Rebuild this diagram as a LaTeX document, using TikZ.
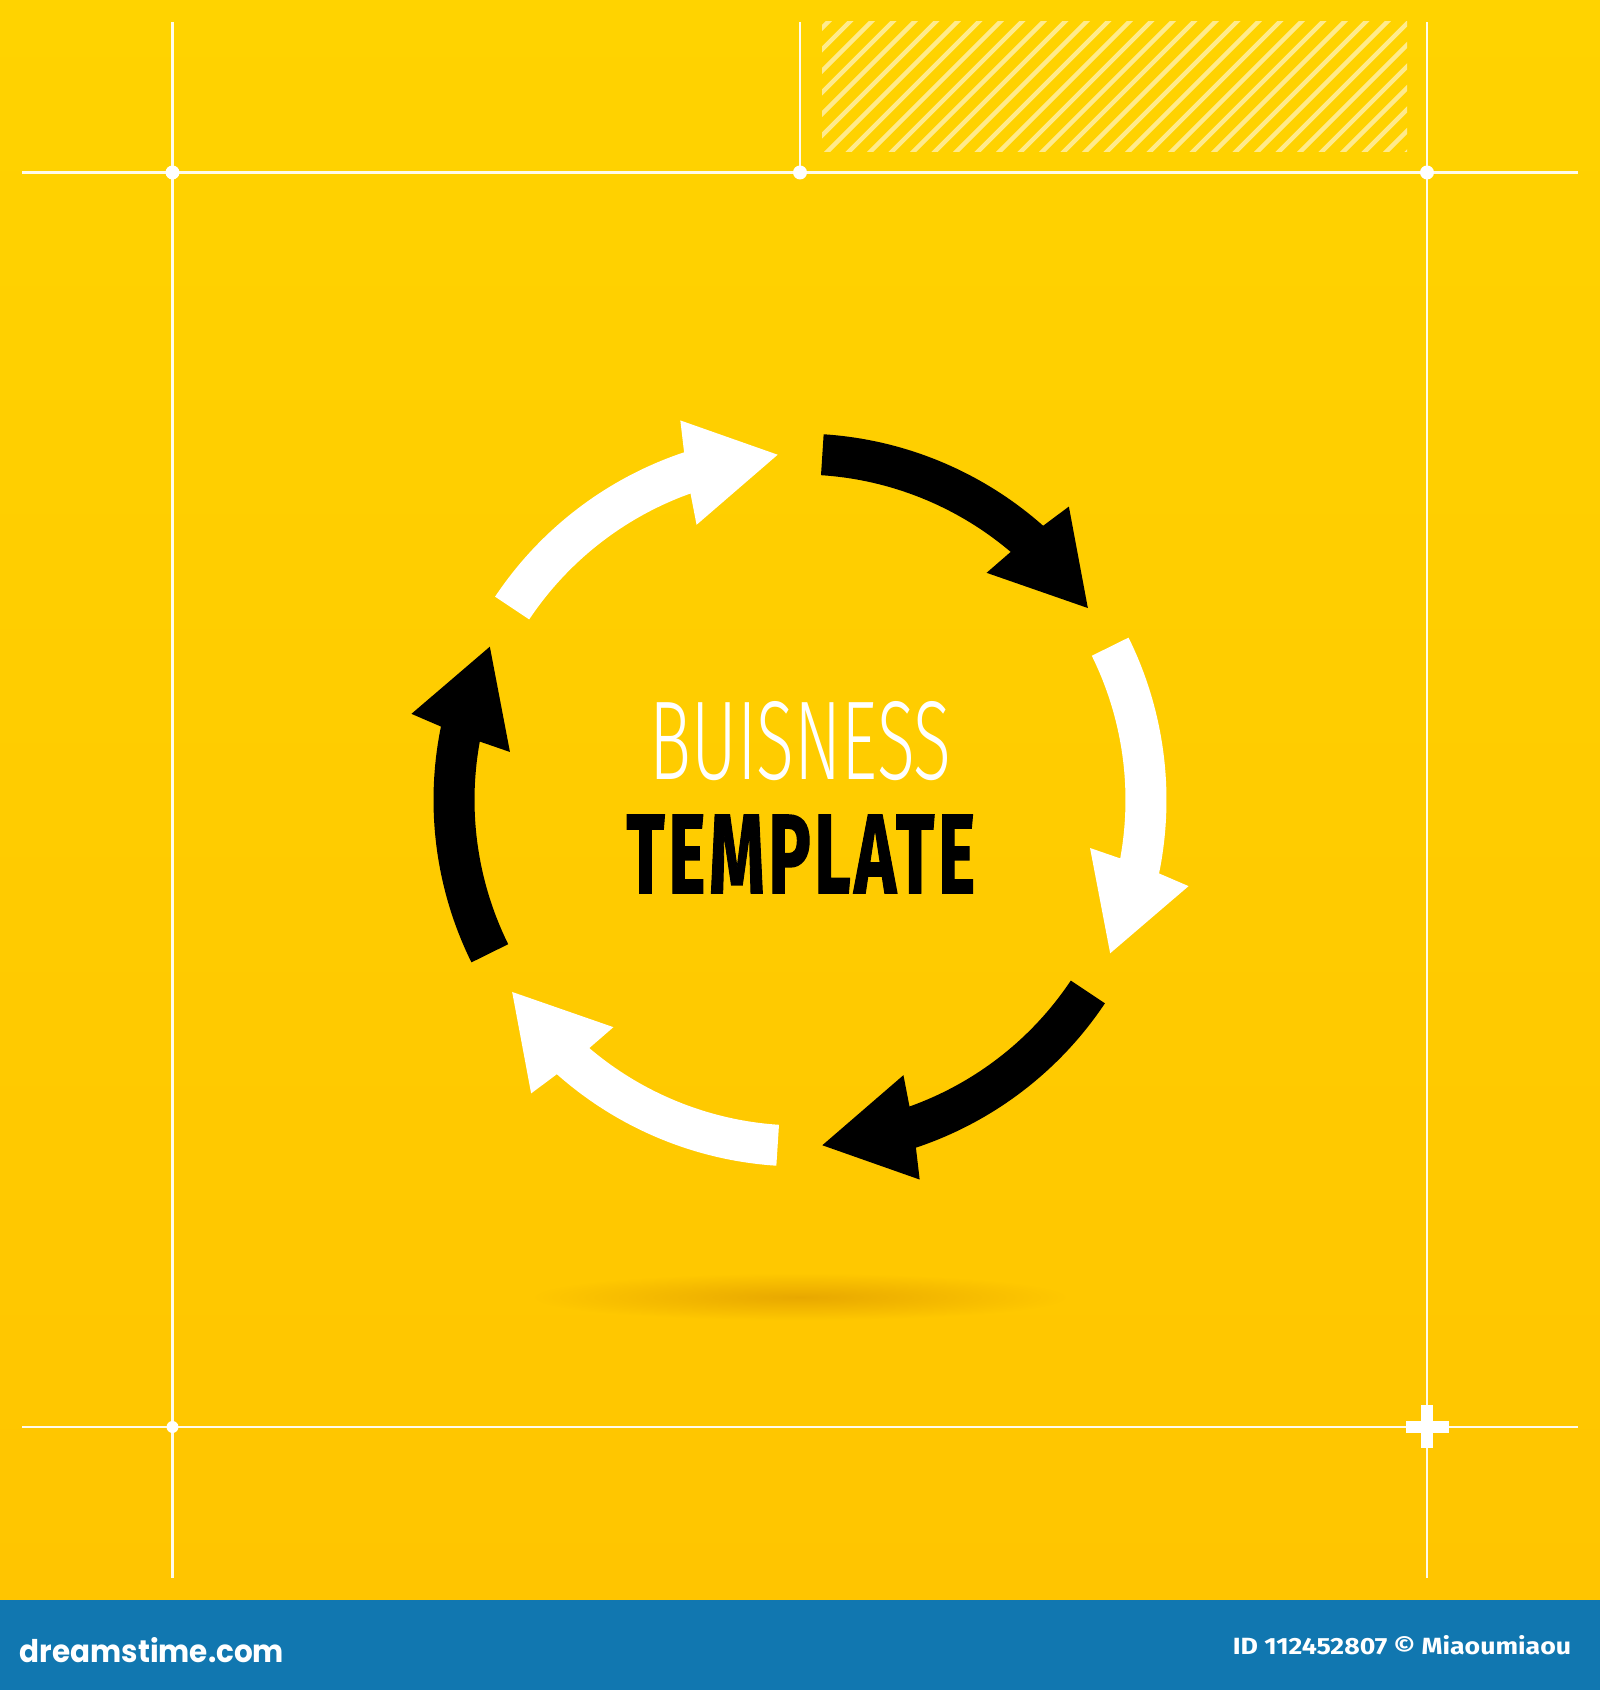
\documentclass[tikz,border=0pt]{standalone}
\usepackage{fontspec}
\newfontfamily\thinf{Fira Sans Light}
\newfontfamily\boldf[BoldFeatures={FakeBold=1.3, LetterSpace=5}]{Fira Sans}
\newfontfamily\barf{Fira Sans}
\newfontfamily\logof{Poppins}
\definecolor{bgtop}{HTML}{FFD300}
\definecolor{bgbot}{HTML}{FFC500}
\definecolor{shadowbg}{HTML}{FFC800}
\definecolor{shadowc}{HTML}{E8A800}
\definecolor{barblue}{RGB}{17,119,176}
\tikzset{
  guide/.style={draw=white, draw opacity=0.92, line width=0.7pt},
  hatchline/.style={draw=white, draw opacity=0.55, line width=1.3pt},
  dotmark/.style={fill=white},
  titletext/.style={inner sep=0pt, anchor=center},
}
\begin{document}
\begin{tikzpicture}[x=0.01cm, y=0.01cm]
\useasboundingbox (0,0) rectangle (1600,1690);
% background
\shade[top color=bgtop, bottom color=bgbot] (0,90) rectangle (1600,1690);
\fill[barblue] (0,0) rectangle (1600,90);
% shadow under the circle
\shade[inner color=shadowc, outer color=shadowbg] (800,393) ellipse (270 and 24);
% hatched rectangle
\begin{scope}
  \clip (822,1538) rectangle (1407,1668);
  \foreach \k in {0,...,35}{
    \draw[hatchline] (690+\k*21.5,1530) -- ++(145,145);
  }
\end{scope}
% guide lines
\coordinate (h1a) at (22,1517.5);
\coordinate (h1b) at (1578,1517.5);
\coordinate (h2a) at (22,263);
\coordinate (h2b) at (1578,263);
\coordinate (v1a) at (172.5,1668);
\coordinate (v1b) at (172.5,112);
\coordinate (v2a) at (1427,1668);
\coordinate (v2b) at (1427,112);
\coordinate (v3a) at (800,1668);
\coordinate (v3b) at (800,1517.5);
\draw[guide] (h1a) -- (h1b);
\draw[guide] (h2a) -- (h2b);
\draw[guide] (v1a) -- (v1b);
\draw[guide] (v2a) -- (v2b);
\draw[guide] (v3a) -- (v3b);
\fill[dotmark] (172.5,1517.5) circle (7);
\fill[dotmark] (800,1517.5) circle (7);
\fill[dotmark] (1427,1517.5) circle (7);
\fill[dotmark] (172.5,263) circle (6);
\fill[dotmark] (1405.5,257) rectangle (1448.5,269);
\fill[dotmark] (1421,241.5) rectangle (1433,284.5);
% circular arrows
\begin{scope}[shift={(800,890)}]
\foreach \i/\col in {0/white,1/black,2/white,3/black,4/white,5/black}{
  \pgfmathsetmacro\aS{146.3-60*\i}
  \pgfmathsetmacro\aE{\aS-52.6}
  \pgfmathsetmacro\aO{\aE+14.74}
  \pgfmathsetmacro\aI{\aE+15.96}
  \pgfmathsetmacro\aHO{\aE+13.8}
  \pgfmathsetmacro\aHI{\aE+16.9}
  \fill[\col] (\aS:366.5) arc[start angle=\aS, end angle=\aO, radius=366.5]
    -- (\aHO:398) -- (\aE:346) -- (\aHI:294) -- (\aI:325.5)
    arc[start angle=\aI, end angle=\aS, radius=325.5] -- cycle;
}
\end{scope}
% title
\node[titletext, text=white] (t1) at (800.5,949) {\resizebox{3.02cm}{0.78cm}{\thinf BUISNESS}};
\node[titletext, text=black] (t2) at (799,836) {\resizebox{3.45cm}{0.78cm}{\boldf\bfseries TEMPLATE\kern-0.5pt}};
% bottom bar texts
\node[titletext, text=white] (logo) at (152,40) {\resizebox{2.64cm}{0.25cm}{\logof\bfseries dreamstime.com}};
\node[titletext, text=white] (credit) at (1402,44.5) {\resizebox{3.38cm}{0.19cm}{\barf\bfseries ID 112452807 \textcopyright{} Miaoumiaou}};
\end{tikzpicture}
\end{document}
